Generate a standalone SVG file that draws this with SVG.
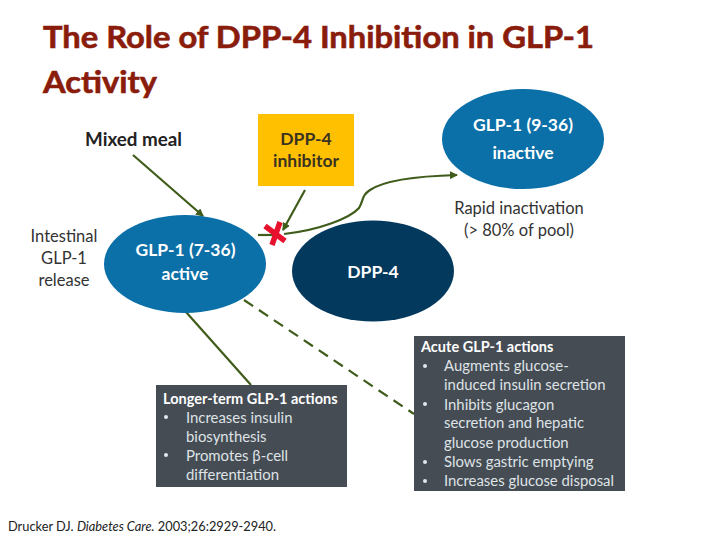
<svg xmlns="http://www.w3.org/2000/svg" width="720" height="540" viewBox="0 0 720 540">
<style>
text{font-family:Lato,"Liberation Sans",sans-serif}
.t{font-size:30px;font-weight:700;fill:#8a1c0c;stroke:#8a1c0c;stroke-width:.6}
.n{font-size:17.500px;font-weight:700;text-anchor:middle;fill:#fff}
.d{font-size:16.500px;text-anchor:middle;fill:#333}
.b{font-size:14.900px;fill:#dfe3e6}
.h{font-size:14.500px;font-weight:700;fill:#fff}
.c{fill:none;stroke:#3f5c1b;stroke-width:2.200}
.box{fill:#454c54}
.blue{fill:#0b6fa8}
</style>
<defs><marker id="a" markerWidth="8" markerHeight="8" refX="7" refY="4" orient="auto" markerUnits="userSpaceOnUse"><path d="M0 0L8 4L0 8Z" fill="#3f5c1b"/></marker></defs>
<rect width="720" height="540" fill="#fff"/>
<g id="title"><text class="t" x="43" y="48" textLength="551" lengthAdjust="spacingAndGlyphs">The Role of DPP-4 Inhibition in GLP-1</text><text class="t" x="43" y="93" textLength="114" lengthAdjust="spacingAndGlyphs">Activity</text></g>
<g id="connectors">
<path class="c" d="M133 155L203 216" marker-end="url(#a)"/>
<path class="c" d="M305 190L283 230" marker-end="url(#a)"/>
<path class="c" d="M258 235L274 235"/>
<path class="c" d="M284 234C320 230 350 218 359 208C364 200 361 196 370 190C385 180 420 176 457 175" marker-end="url(#a)"/>
<path class="c" d="M186 312L251 385"/>
<path class="c" d="M244 300L414 414" stroke-dasharray="11 7" stroke-width="2.600"/>
</g>
<g id="mixed-meal"><text x="133.500" y="146" font-size="18.800" font-weight="700" text-anchor="middle" fill="#222">Mixed meal</text></g>
<g id="release"><text class="d" x="64" y="242">Intestinal</text><text class="d" x="64" y="264">GLP-1</text><text class="d" x="64" y="286">release</text></g>
<g id="inhibitor"><rect x="258" y="114" width="96" height="72" fill="#ffc000"/><text class="n" x="306" y="145" style="fill:#3a3320">DPP-4</text><text class="n" x="306" y="167" style="fill:#3a3320">inhibitor</text></g>
<g id="glp-active"><ellipse class="blue" cx="185" cy="264" rx="81" ry="49"/><text class="n" x="185.500" y="256">GLP-1 (7-36)</text><text class="n" x="185" y="280">active</text></g>
<g id="glp-inactive"><ellipse class="blue" cx="523" cy="139" rx="81" ry="50"/><text class="n" x="523" y="131">GLP-1 (9-36)</text><text class="n" x="523" y="159">inactive</text></g>
<g id="dpp4"><ellipse cx="373" cy="271" rx="81" ry="50.500" fill="#04395e"/><text class="n" x="373" y="278">DPP-4</text></g>
<g id="x-mark"><path d="M265 226L285 241M280 222L272 245" fill="none" stroke="#e8112d" stroke-width="5.500"/></g>
<g id="rapid"><text class="d" x="519" y="214">Rapid inactivation</text><text class="d" x="519" y="236">(&gt; 80% of pool)</text></g>
<g id="longer"><rect class="box" x="156" y="385" width="191" height="102"/><text class="h" x="163" y="404">Longer-term GLP-1 actions</text><circle cx="166" cy="417" r="2" fill="#e4e7ea"/><circle cx="166" cy="455" r="2" fill="#e4e7ea"/><text class="b" x="186" y="423">Increases insulin</text><text class="b" x="186" y="442">biosynthesis</text><text class="b" x="186" y="461">Promotes β-cell</text><text class="b" x="186" y="480">differentiation</text></g>
<g id="acute"><rect class="box" x="414" y="336" width="211" height="155"/><text class="h" x="421" y="352">Acute GLP-1 actions</text>
<g fill="#e4e7ea"><circle cx="425" cy="366" r="2"/><circle cx="425" cy="404" r="2"/><circle cx="425" cy="462" r="2"/><circle cx="425" cy="481" r="2"/></g>
<text class="b" x="444" y="371">Augments glucose-</text><text class="b" x="444" y="390">induced insulin secretion</text><text class="b" x="444" y="410">Inhibits glucagon</text><text class="b" x="444" y="428">secretion and hepatic</text><text class="b" x="444" y="448">glucose production</text><text class="b" x="444" y="467">Slows gastric emptying</text><text class="b" x="444" y="486">Increases glucose disposal</text></g>
<g id="citation"><text x="8" y="531" font-size="12.800" fill="#222">Drucker DJ. <tspan font-style="italic">Diabetes Care.</tspan> 2003;26:2929-2940.</text></g>
</svg>
